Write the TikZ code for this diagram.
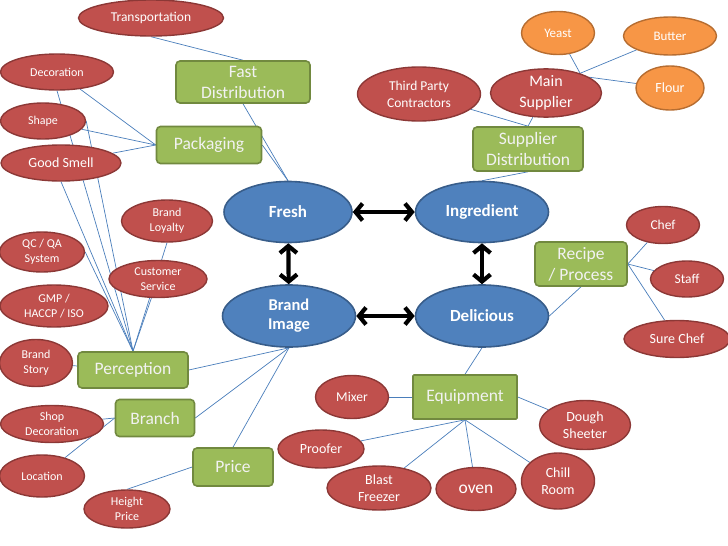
\documentclass[tikz,border=0pt]{standalone}
\usepackage{fontspec}
\setmainfont{Carlito}
\usetikzlibrary{shapes.geometric,arrows.meta,backgrounds}

\definecolor{bubred}{HTML}{C0504D}
\definecolor{bubredline}{HTML}{8C3836}
\definecolor{boxgreen}{HTML}{9BBB59}
\definecolor{boxgreenline}{HTML}{71893F}
\definecolor{bubblue}{HTML}{4F81BD}
\definecolor{bubblueline}{HTML}{385D8A}
\definecolor{buborange}{HTML}{F79646}
\definecolor{buborangeline}{HTML}{B66D31}
\definecolor{linkblue}{HTML}{4A7EBB}

\begin{document}
\begin{tikzpicture}[x=1pt, y=-1pt,
    redbub/.style={ellipse, draw=bubredline, fill=bubred, line width=1.4pt, text=white, inner sep=0pt, align=center, font=\fontsize{12}{14.8}\selectfont},
    orangebub/.style={ellipse, draw=buborangeline, fill=buborange, line width=1.4pt, text=white, inner sep=0pt, align=center, font=\fontsize{13}{16}\selectfont},
    bluebub/.style={ellipse, draw=bubblueline, fill=bubblue, line width=1.6pt, text=white, inner sep=0pt, align=center, font=\fontsize{17}{20}\selectfont\bfseries},
    greenbox/.style={rectangle, rounded corners=4pt, draw=boxgreenline, fill=boxgreen, line width=1.6pt, text=white!95!black, inner sep=0pt, align=center, font=\fontsize{17.5}{21}\selectfont},
    link/.style={draw=linkblue, line width=0.7pt},
    bigarrow/.style={line width=4.2pt, {Straight Barb[length=7pt,width=17pt]}-{Straight Barb[length=7pt,width=17pt]}}]

      \useasboundingbox (0,0) rectangle (728,546);

      \node[bluebub, minimum width=128pt, minimum height=61pt] (fresh) at (288,212) {Fresh};
      \node[bluebub, minimum width=133pt, minimum height=61pt] (ingredient) at (482,212) {Ingredient};
      \node[bluebub, minimum width=133pt, minimum height=62pt, font=\fontsize{16.5}{19}\selectfont\bfseries] (brandimg) at (289,316) {Brand\\Image};
      \node[bluebub, minimum width=133pt, minimum height=62pt] (delicious) at (482,316) {Delicious};

      \node[greenbox, minimum width=134pt, minimum height=42pt] (fastdist) at (243,82) {Fast\\Distribution};
      \node[greenbox, minimum width=105pt, minimum height=37pt] (packaging) at (209,145) {Packaging};
      \node[greenbox, minimum width=110pt, minimum height=44pt] (supdist) at (528,149) {Supplier\\Distribution};
      \node[greenbox, minimum width=92pt, minimum height=44pt] (recipe) at (581,264) {Recipe\\/ Process};
      \node[greenbox, minimum width=110pt, minimum height=36pt] (perception) at (133,370) {Perception};
      \node[greenbox, minimum width=79pt, minimum height=37pt] (branch) at (155,418) {Branch};
      \node[greenbox, minimum width=80pt, minimum height=38pt] (price) at (233,467) {Price};
      \node[greenbox, rounded corners=1pt, minimum width=104pt, minimum height=44pt] (equipment) at (465,397) {Equipment};

      \node[redbub, minimum width=145pt, minimum height=36pt, font=\fontsize{13.5}{16}\selectfont] (transport) at (151,18) {Transportation};
      \node[redbub, minimum width=113pt, minimum height=36pt] (decoration) at (57,72) {Decoration};
      \node[redbub, minimum width=85pt, minimum height=36pt] (shape) at (43,121) {Shape};
      \node[redbub, minimum width=120pt, minimum height=36pt, font=\fontsize{14}{17}\selectfont] (smell) at (61,163) {Good Smell};
      \node[redbub, minimum width=91pt, minimum height=42pt] (loyalty) at (167,221) {Brand\\Loyalty};
      \node[redbub, minimum width=85pt, minimum height=40pt] (qcqa) at (42,252) {QC / QA\\System};
      \node[redbub, minimum width=98pt, minimum height=37pt] (custserv) at (158,279) {Customer\\Service};
      \node[redbub, minimum width=108pt, minimum height=42pt] (gmp) at (54,306) {GMP /\\HACCP / ISO};
      \node[redbub, minimum width=73pt, minimum height=47pt] (brandstory) at (36,363) {Brand\\Story};
      \node[redbub, minimum width=103pt, minimum height=37pt] (shopdeco) at (52,424) {Shop\\Decoration};
      \node[redbub, minimum width=85pt, minimum height=42pt] (location) at (42,476) {Location};
      \node[redbub, minimum width=86pt, minimum height=38pt] (heightprice) at (127,509) {Height\\Price};

      \node[redbub, minimum width=73pt, minimum height=43pt, font=\fontsize{13.5}{17}\selectfont] (mixer) at (352,397) {Mixer};
      \node[redbub, minimum width=86pt, minimum height=38pt, font=\fontsize{14}{17}\selectfont] (proofer) at (321,449) {Proofer};
      \node[redbub, minimum width=104pt, minimum height=44pt, font=\fontsize{14}{17}\selectfont] (blast) at (379,488) {Blast\\Freezer};
      \node[redbub, minimum width=80pt, minimum height=43pt, font=\fontsize{17.5}{21}\selectfont] (oven) at (476,489) {oven};
      \node[redbub, minimum width=73pt, minimum height=56pt, font=\fontsize{14}{17}\selectfont] (chill) at (558,481) {Chill\\Room};
      \node[redbub, minimum width=91pt, minimum height=49pt, font=\fontsize{14}{17}\selectfont] (dough) at (585,425) {Dough\\Sheeter};

      \node[redbub, minimum width=73pt, minimum height=37pt, font=\fontsize{13.5}{17}\selectfont] (chef) at (663,225) {Chef};
      \node[redbub, minimum width=73pt, minimum height=36pt, font=\fontsize{13.5}{17}\selectfont] (staff) at (687,279) {Staff};
      \node[redbub, minimum width=106pt, minimum height=37pt, font=\fontsize{14}{17}\selectfont] (surechef) at (677,339) {Sure Chef};

      \node[redbub, minimum width=123pt, minimum height=54pt, font=\fontsize{13.5}{17}\selectfont] (thirdparty) at (419,94) {Third Party\\Contractors};
      \node[redbub, minimum width=111pt, minimum height=45pt, font=\fontsize{16}{20.5}\selectfont] (mainsup) at (546,93) {Main\\Supplier};
      \node[orangebub, minimum width=73pt, minimum height=43pt] (yeast) at (558,33) {Yeast};
      \node[orangebub, minimum width=93pt, minimum height=38pt] (butter) at (670,36) {Butter};
      \node[orangebub, minimum width=68pt, minimum height=44pt, font=\fontsize{14}{17}\selectfont] (flour) at (670,88) {Flour};

      \begin{scope}[on background layer]
      \draw[link] (transport.south) -- (fastdist.north);
      \draw[link] (fastdist.south) -- (fresh.north);
      \draw[link] (packaging.east) -- (fresh.north);
      \draw[link] (decoration) -- (packaging.west);
      \draw[link] (shape) -- (packaging.west);
      \draw[link] (smell) -- (packaging.west);

      \draw[link] (decoration.south) -- (perception.north);
      \draw[link] (shape.east) -- (perception.north);
      \draw[link] (smell.south) -- (perception.north);
      \draw[link] (qcqa.east) -- (perception.north);
      \draw[link] (loyalty.south) -- (perception.north);
      \draw[link] (custserv) -- (perception.north);
      \draw[link] (brandstory) -- (perception);

      \draw[link] (perception.east) -- (brandimg.south);
      \draw[link] (branch.east) -- (brandimg.south);
      \draw[link] (price.north) -- (brandimg.south);
      \draw[link] (shopdeco) -- (branch.west);
      \draw[link] (location) -- (branch.west);
      \draw[link] (heightprice.north) -- (price.west);

      \draw[link] (delicious.south) -- (equipment.north);
      \draw[link] (mixer) -- (equipment);
      \draw[link] (equipment.east) -- (dough);
      \draw[link] (equipment.south) -- (proofer);
      \draw[link] (equipment.south) -- (blast);
      \draw[link] (equipment.south) -- (oven);
      \draw[link] (equipment.south) -- (chill);

      \draw[link] (delicious.east) -- (recipe.south);
      \draw[link] (recipe.east) -- (chef);
      \draw[link] (recipe.east) -- (staff);
      \draw[link] (recipe.east) -- (surechef);

      \draw[link] (supdist.south) -- (ingredient.north);
      \draw[link] (thirdparty) -- (supdist.north);
      \draw[link] (mainsup) -- (supdist.north);
      \draw[link] (mainsup.30) -- (yeast);
      \draw[link] (mainsup.30) -- (butter);
      \draw[link] (mainsup.20) -- (flour);
      \end{scope}

      \draw[bigarrow] (fresh) -- (ingredient);
      \draw[bigarrow] (fresh) -- (brandimg);
      \draw[bigarrow] (ingredient) -- (delicious);
      \draw[bigarrow] (brandimg) -- (delicious);
    \end{tikzpicture}
\end{document}
